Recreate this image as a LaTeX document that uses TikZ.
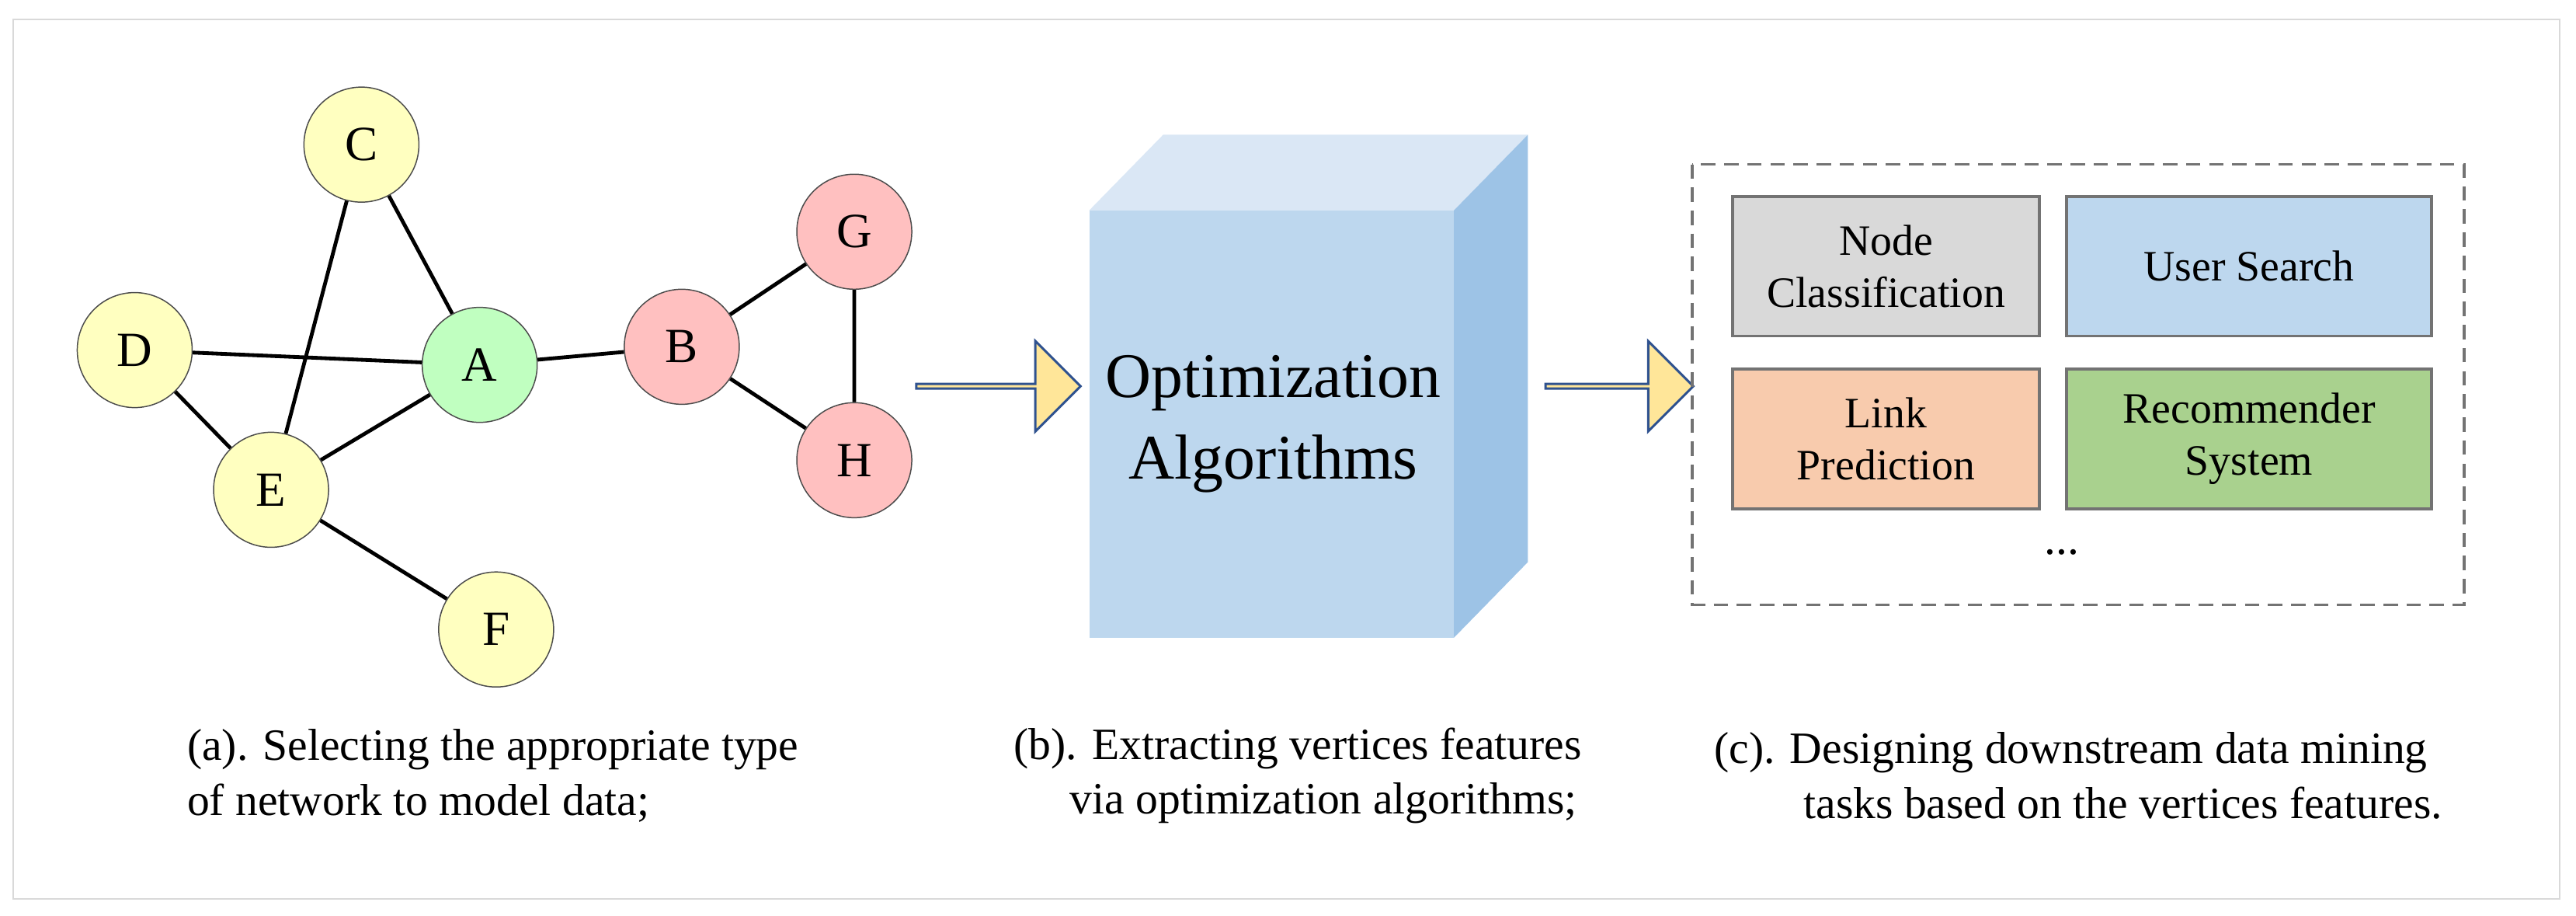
\documentclass[tikz,border=0pt]{standalone}
\usepackage{fontspec}
\setmainfont{Liberation Serif}
\usetikzlibrary{shapes.arrows}
\begin{document}
\begin{tikzpicture}[x=0.02cm,y=-0.02cm,
 v/.style={circle,draw=black!70,inner sep=0pt,minimum size=1.4cm,font=\fontsize{17}{20}\selectfont},
 e/.style={line width=1.3pt},
 ba/.style={single arrow,draw={rgb,255:red,47;green,82;blue,143},fill={rgb,255:red,255;green,230;blue,153},line width=0.8pt,minimum height=2.0cm,single arrow head extend=0.25cm,minimum width=1.1cm,inner sep=0pt},
 tb/.style={draw=black!55,line width=1pt,minimum width=3.74cm,minimum height=1.7cm,align=center,font=\fontsize{15}{18}\selectfont,inner sep=1pt},
 captxt/.style={font=\fontsize{15.5}{19}\selectfont,align=left}]
\useasboundingbox (0,0) rectangle (1568,557);
\draw[black!15,line width=0.6pt] (8,12) rectangle (1558,547);
\definecolor{yel}{RGB}{255,255,192}
\definecolor{grn}{RGB}{192,255,192}
\definecolor{pnk}{RGB}{255,192,192}
\node[v,fill=yel] (C) at (220,88) {C};
\node[v,fill=yel] (D) at (82,213) {D};
\node[v,fill=grn] (A) at (292,222) {A};
\node[v,fill=yel] (E) at (165,298) {E};
\node[v,fill=yel] (F) at (302,383) {F};
\node[v,fill=pnk] (B) at (415,211) {B};
\node[v,fill=pnk] (G) at (520,141) {G};
\node[v,fill=pnk] (H) at (520,280) {H};
\draw[e] (C)--(A) (C)--(E) (D)--(A) (D)--(E) (E)--(A) (A)--(B) (B)--(G) (B)--(H) (G)--(H) (E)--(F);
\node[ba] (ar1) at (607,235) {};
\node[ba,minimum height=1.8cm] (ar2) at (985,235) {};
\fill[fill={rgb,255:red,218;green,231;blue,245}] (663,128)--(708,82)--(930,82)--(885,128)--cycle;
\fill[fill={rgb,255:red,157;green,195;blue,230}] (885,128)--(930,82)--(930,342)--(885,388)--cycle;
\fill[fill={rgb,255:red,189;green,215;blue,238}] (663,128) rectangle (885,388);
\node[align=center,font=\fontsize{22}{28}\selectfont] (opt) at (775,258) {Optimization\\Algorithms};
\draw[black!55,line width=1pt,dash pattern=on 5pt off 3pt] (1030,100) rectangle (1500,368);
\node[tb,fill={rgb,255:red,217;green,217;blue,217}] (nc) at (1148,162) {Node\\Classification};
\node[tb,fill={rgb,255:red,189;green,215;blue,238},minimum width=4.44cm] (us) at (1369,162) {User Search};
\node[tb,fill={rgb,255:red,248;green,203;blue,173}] (lp) at (1148,267) {Link\\Prediction};
\node[tb,fill={rgb,255:red,169;green,209;blue,142},minimum width=4.44cm] (rs) at (1369,267) {Recommender\\System};
\node[font=\fontsize{16}{18}\selectfont] (dots) at (1255,336) {...};
\node[captxt] (ca) at (300,472) {(a). Selecting the appropriate type\\of network to model data;};
\node[captxt] (cb) at (790,472) {(b). Extracting vertices features\\\ \ \ \ \ via optimization algorithms;};
\node[captxt] (cc) at (1265,472) {(c). Designing downstream data mining\\\ \ \ \ \ \ \ \ tasks based on the vertices features.};
\end{tikzpicture}
\end{document}
